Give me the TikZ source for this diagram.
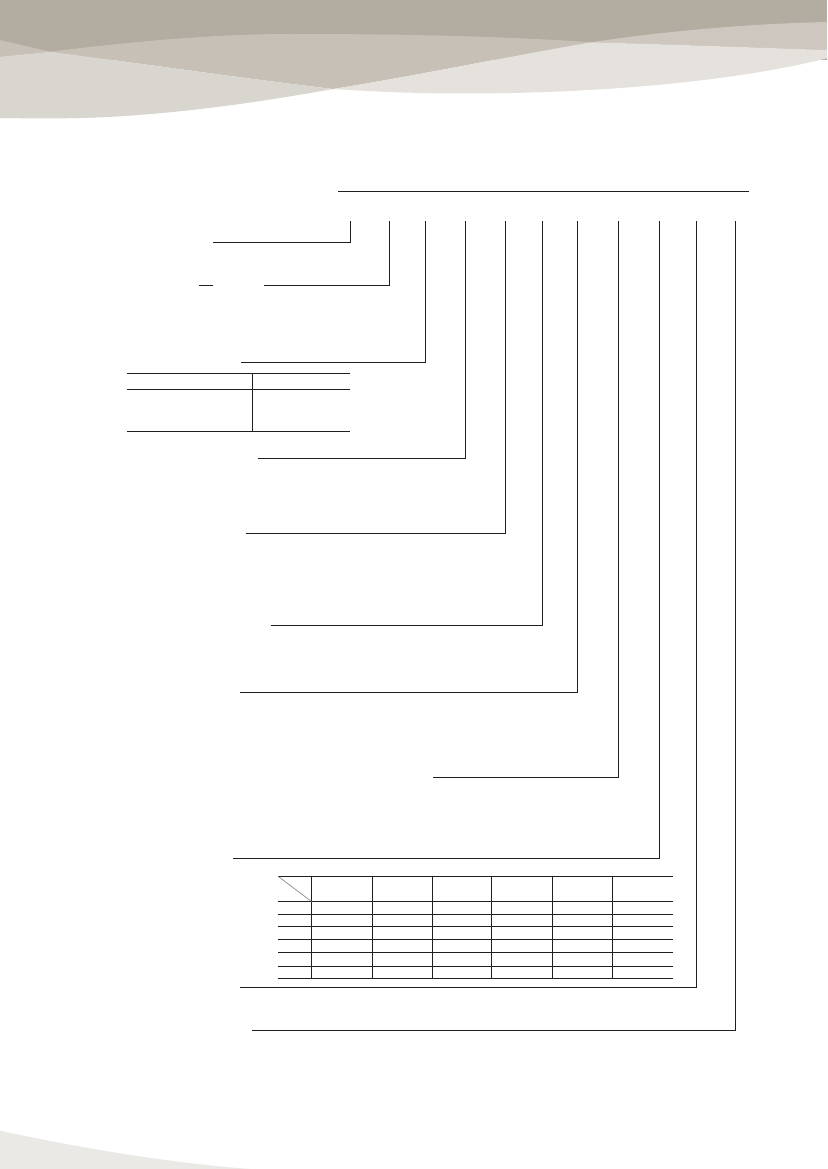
\documentclass[tikz,border=0pt]{standalone}
\begin{document}
\begin{tikzpicture}[x=1pt,y=-1pt,
  lead/.style={draw=black!88,line width=1.1pt},
  rule/.style={draw=black!88,line width=0.9pt},
  diag/.style={draw=black!45,line width=0.7pt}]
\definecolor{wdark}{HTML}{B3ACA0}
\definecolor{wmed}{HTML}{C7C0B7}
\definecolor{wmedr}{HTML}{CEC7C0}
\definecolor{wlight}{HTML}{D9D6CF}
\definecolor{wlighter}{HTML}{E5E2DD}
\definecolor{wbottom}{HTML}{EBE9E5}
\useasboundingbox (0,0) rectangle (827,1169);
\fill[white] (0,0) rectangle (827,1169);
% header waves
\fill[wdark] (0,0) rectangle (827,60);
\fill[wmed] (0,40) -- (50,51.7) .. controls (130,42) and (210,34) .. (290,34)
  .. controls (400,34) and (500,36) .. (591,42.3)
  .. controls (500,58) and (420,75) .. (333,89)
  .. controls (240,78) and (130,62) .. (50,51.7) -- (0,56.7) -- cycle;
\fill[wmedr] (591,42.3) .. controls (660,32) and (740,24) .. (827,22) -- (827,50)
  .. controls (740,47) and (660,44) .. (591,42.3) -- cycle;
\fill[wlighter] (333,89) .. controls (420,75) and (500,58) .. (591,42.3)
  .. controls (660,44) and (740,47) .. (827,50) -- (827,58.3)
  .. controls (720,85) and (560,96) .. (420,93)
  .. controls (380,92) and (350,90) .. (333,89) -- cycle;
\fill[wlight] (0,56.7) -- (50,51.7) .. controls (130,62) and (240,78) .. (333,89)
  .. controls (250,104) and (150,118) .. (60,118.3) .. controls (30,118.3) and (10,118.3) .. (0,118) -- cycle;
% footer wave
\fill[wbottom] (0,1130.7) .. controls (80,1148) and (170,1163) .. (250,1169) -- (0,1169) -- cycle;
% top rule
\coordinate (r0) at (338,191.5);
\coordinate (r1) at (749,191.5);
\draw[lead] (r0) -- (r1);
% leaders
\foreach \i/\x/\y/\e in {1/350.5/242.5/213,2/389.5/285.5/263.5,3/425.5/362.5/241,4/465.5/458.5/258,
  5/505.5/533.5/246,6/542.5/625.5/270.7,7/577.5/692.5/240,8/618.5/777.5/433,9/659.5/858.5/232.7,
  10/696.5/987.5/239.6,11/735.5/1030.5/252}{
  \coordinate (t\i) at (\x,221);
  \coordinate (e\i) at (\e,\y);
  \draw[lead] (t\i) |- (e\i);
}
\coordinate (u0) at (199.3,285.5);
\coordinate (u1) at (212.7,285.5);
\draw[lead] (u0) -- (u1);
% small table
\coordinate (a0) at (127.3,373.5); \coordinate (a1) at (350.3,373.5);
\coordinate (b0) at (127.3,389.5); \coordinate (b1) at (350.3,389.5);
\coordinate (c0) at (127.3,431.5); \coordinate (c1) at (350.3,431.5);
\coordinate (d0) at (252.5,373.5); \coordinate (d1) at (252.5,431.5);
\draw[rule] (a0) -- (a1);
\draw[rule] (b0) -- (b1);
\draw[rule] (c0) -- (c1);
\draw[rule] (d0) -- (d1);
% grid table
\foreach \k/\y in {0/876.5,1/901.5,2/914.5,3/926.5,4/939.5,5/952.5,6/966.5,7/978.5}{
  \coordinate (hl\k) at (278.3,\y);
  \coordinate (hr\k) at (672.7,\y);
  \draw[rule] (hl\k) -- (hr\k);
}
\foreach \k/\x in {0/311.5,1/372.5,2/432.5,3/491.5,4/552.5,5/612.5}{
  \coordinate (vt\k) at (\x,876.5);
  \coordinate (vb\k) at (\x,978.5);
  \draw[rule] (vt\k) -- (vb\k);
}
\coordinate (g1) at (311.5,901.5);
\draw[diag] (hl0) -- (g1);
\end{tikzpicture}
\end{document}
